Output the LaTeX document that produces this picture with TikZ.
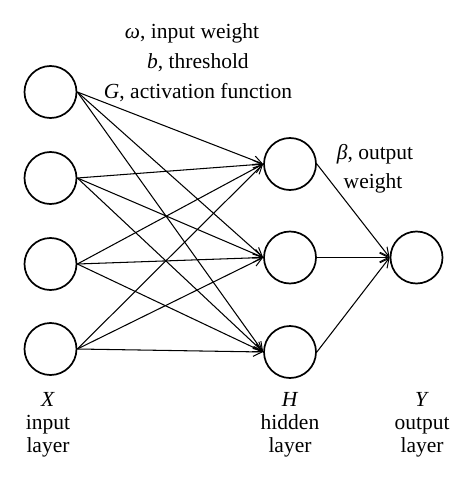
\documentclass[tikz,border=0pt]{standalone}
\usepackage{fontspec}
\setmainfont{Liberation Serif}
\usetikzlibrary{arrows.meta}
\begin{document}
\begin{tikzpicture}[x=1pt,y=-1pt,
  neuron/.style={circle,draw,line width=1.7pt,minimum size=52pt,inner sep=0pt},
  conn/.style={line width=1.05pt,-{Straight Barb[length=9pt,width=9pt,line width=1pt]}},
  lbl/.style={font=\fontsize{21.5}{25}\selectfont,inner sep=0pt,align=center}]
\useasboundingbox (0,0) rectangle (474,481);
\foreach \i/\y in {1/92,2/178,3/264,4/349} \node[neuron] (i\i) at (50.5,\y) {};
\foreach \j/\y in {1/164,2/257.5,3/352} \node[neuron] (h\j) at (290,\y) {};
\node[neuron] (o) at (416.5,257.5) {};
\foreach \i in {1,...,4} \foreach \j in {1,2,3} \draw[conn] (i\i.east) -- (h\j.west);
\foreach \j in {1,2,3} \draw[conn] (h\j.east) -- (o.west);
\node[lbl] (t1) at (192,33) {\textit{ω}, input weight};
\node[lbl] (t2) at (198,63) {\textit{b}, threshold};
\node[lbl] (t3) at (198,93) {\textit{G}, activation function};
\node[lbl] (t4) at (375,154) {\textit{β}, output};
\node[lbl] (t5) at (373,183) {weight};
\node[lbl,anchor=north] (lx) at (48,392) {\textit{X}\\[-2pt]input\\[-2pt]layer};
\node[lbl,anchor=north] (lh) at (290,392) {\textit{H}\\[-2pt]hidden\\[-2pt]layer};
\node[lbl,anchor=north] (ly) at (422,392) {\textit{Y}\\[-2pt]output\\[-2pt]layer};
\end{tikzpicture}
\end{document}
